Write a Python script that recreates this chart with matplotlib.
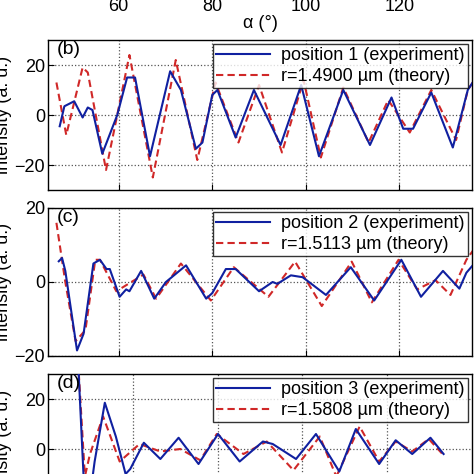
import matplotlib
matplotlib.use("Agg")
import matplotlib.pyplot as plt

plt.rcParams['font.family'] = ['Liberation Sans', 'DejaVu Sans']
plt.rcParams['font.size'] = 13

bx_exp = [47.4,48.4,50.5,52.3,53.4,54.4,56.5,59.7,61.8,63.5,66.7,71,73.3,76.5,77.9,80,81.1,85,88.9,94.6,99,102.8,108,113.7,118.3,120.8,122.9,126.8,131.4,134.6,136]
by_exp = [-4.5,3.5,5.5,-1,3,2,-15.5,0,15,15,-16.5,17.5,10,-13.5,-11,8,10,-9,10,-12,12,-16.5,10,-12,7,-5.5,-5.5,9,-13,10,14]
bx_th = [46.7,48.8,52.3,53.4,57.3,62.3,67.3,72.2,76.8,80.7,85.6,90,94.9,99.5,103.2,108,113.4,117.6,122.2,126.8,132.1,134.6,136]
by_th = [13,-8,19,17,-22,24,-25,22,-18,13,-11,12,-15,14,-17,11,-11,6,-7,10,-10,10,14]

cx_exp = [47.2,47.9,48.6,51.1,52.5,54.6,56,57.4,58.1,60.2,61.6,62.3,64.8,67.6,70.1,74.4,78.7,80,82.9,85,90,92.9,93.9,96.8,99.3,104.3,109.6,114.6,120.4,124.6,129.3,132.8,134.3,136]
cy_exp = [5.6,6.5,3,-18.5,-14,5,6,3.5,3.5,-4,-2,-2.5,3,-4.5,0,4.5,-4.5,-3,3.5,3.5,-2.5,0,-0.5,1.8,1.3,-3.5,4,-5,6,-4,3,-1.8,2.5,5]
cx_th = [46.7,48.6,50.8,52.9,55,56,59.5,65.3,68,73.3,79.7,84.6,92,97.7,103.4,109.8,114.1,119.8,123.8,127.7,130.9,134.3,136]
cy_th = [16,0,-16,-13,6,6,-2.5,2,-4.5,5,-5,4,-4,5.5,-6.5,5.5,-5.5,6,-2,0.5,-3.5,6,9]

dx_exp = [47.1,48.7,49.5,51,53.4,56,58.3,59.4,62.6,66.5,70.8,75.5,80.1,85.2,90.7,93,98.5,103.2,108.7,112.6,118.1,122,125.9,130.2,133.3]
dy_exp = [35,-22,-24,-5,18.5,5,-10,-8,2.5,-4,4.5,-6,6,-5,3,2,-4,6,-9,8,-6,3.5,-2,4.5,-2]
dx_th = [47.1,48.7,49.9,53,56.9,61.6,66.5,71.2,75.9,79.8,86.1,91.6,97.9,104.1,108,113.5,118.1,122,125.9,129.8,133.3]
dy_th = [35,-11,-2,13,-5,2,-1,0,-4.5,6,-2,3,-8.5,5,-11,9,-5,3,-1,4,-2.5]

panels = [
    dict(tag='(b)', xe=bx_exp, ye=by_exp, xt=bx_th, yt=by_th, pos='position 1 (experiment)', th='r=1.4900 µm (theory)',
         rect=[48, 40, 472, 190], xlim=(44.9, 135.5), ylim=(-30, 30), yt_=[-20, 0, 20]),
    dict(tag='(c)', xe=cx_exp, ye=cy_exp, xt=cx_th, yt=cy_th, pos='position 2 (experiment)', th='r=1.5113 µm (theory)',
         rect=[48, 208, 472, 356], xlim=(44.9, 135.5), ylim=(-20, 20), yt_=[-20, 0, 20]),
    dict(tag='(d)', xe=dx_exp, ye=dy_exp, xt=dx_th, yt=dy_th, pos='position 3 (experiment)', th='r=1.5808 µm (theory)',
         rect=[48, 374, 472, 524], xlim=(40, 140), ylim=(-30, 30), yt_=[-20, 0, 20]),
]

W = H = 474
fig = plt.figure(figsize=(4.74, 4.74), dpi=100)

def add(rect):
    l, t, r, b = rect
    return fig.add_axes([l / W, 1 - b / H, (r - l) / W, (b - t) / H])

ax0 = add([48, -150, 472, -6])
ax0.set_xlim(44.9, 135.5)
ax0.set_xticks([60, 80, 100, 120])
ax0.set_yticks([])
ax0.set_xlabel('α (°)', labelpad=0)
ax0.tick_params(direction='in', pad=3)

for p in panels:
    ax = add(p['rect'])
    ax.plot(p['xe'], p['ye'], color='#1020a0', lw=1.5, label=p['pos'], zorder=3)
    ax.plot(p['xt'], p['yt'], color='#d02828', lw=1.5, ls=(0, (3.5, 2)), label=p['th'], zorder=2)
    ax.set_xlim(*p['xlim'])
    ax.set_ylim(*p['ylim'])
    ax.set_xticks([60, 80, 100, 120])
    ax.set_xticklabels([])
    ax.set_yticks(p['yt_'])
    ax.grid(True, ls=':', color='#555555', lw=0.9)
    ax.tick_params(direction='in', length=4, pad=2)
    for s in ax.spines.values():
        s.set_linewidth(1.0)
    ax.text(0.02, 0.99, p['tag'], transform=ax.transAxes, va='top', ha='left', fontsize=14)
    ax.set_ylabel('intensity (a. u.)')
    ax.yaxis.set_label_coords(-0.085, 0.5)
    leg = ax.legend(loc='upper right', frameon=True, fancybox=False, edgecolor='black',
                    borderaxespad=0.2, handlelength=3.0, handletextpad=0.6, borderpad=0.2,
                    labelspacing=0.2, fontsize=13)
    leg.get_frame().set_linewidth(1.0)
    leg.set_zorder(5)

fig.savefig('out.png', dpi=100)
